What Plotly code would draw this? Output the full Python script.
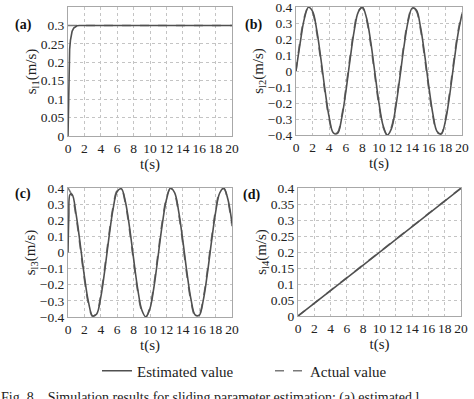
import plotly.graph_objects as go

# ---------------- data ----------------
t_a_est = [0, 0.05, 0.1, 0.15, 0.2, 0.3, 0.4, 0.5, 0.7, 0.9, 1.1, 1.4, 2, 20]
s1_est = [0, 0.10, 0.17, 0.21, 0.235, 0.26, 0.275, 0.284, 0.293, 0.297, 0.299, 0.3, 0.3, 0.3]
t_a_act = [0, 20]
s1_act = [0.3, 0.3]

t_half = [0, 0.5, 1, 1.5, 2, 2.5, 3, 3.5, 4, 4.5, 5, 5.5, 6, 6.5, 7, 7.5, 8, 8.5, 9, 9.5, 10,
          10.5, 11, 11.5, 12, 12.5, 13, 13.5, 14, 14.5, 15, 15.5, 16, 16.5, 17, 17.5, 18, 18.5,
          19, 19.5, 20]

s2_act = [0, 0.192, 0.337, 0.399, 0.364, 0.239, 0.056, -0.140, -0.303, -0.391, -0.384, -0.282,
          -0.112, 0.086, 0.263, 0.375, 0.396, 0.319, 0.165, -0.030, -0.218, -0.352, -0.400,
          -0.350, -0.215, -0.026, 0.168, 0.321, 0.396, 0.374, 0.260, 0.083, -0.115, -0.285,
          -0.384, -0.390, -0.300, -0.137, 0.060, 0.242, 0.365]
s2_est = [0, 0.174, 0.326, 0.398, 0.372, 0.255, 0.076, -0.121, -0.290, -0.387, -0.390, -0.296,
          -0.131, 0.066, 0.248, 0.368, 0.399, 0.331, 0.183, -0.010, -0.201, -0.342, -0.400,
          -0.360, -0.232, -0.046, 0.150, 0.309, 0.393, 0.381, 0.275, 0.103, -0.096, -0.271,
          -0.378, -0.394, -0.313, -0.156, 0.040, 0.226, 0.357]

s3_act = [0.400, 0.351, 0.216, 0.028, -0.166, -0.320, -0.396, -0.374, -0.262, -0.084, 0.114,
          0.284, 0.384, 0.391, 0.302, 0.139, -0.058, -0.241, -0.364, -0.399, -0.336, -0.190,
          0.002, 0.194, 0.338, 0.399, 0.363, 0.238, 0.055, -0.142, -0.304, -0.391, -0.383,
          -0.281, -0.110, 0.087, 0.264, 0.376, 0.396, 0.318, 0.163]
t_c_est = [0, 0.1, 0.25] + t_half[1:]
s3_est = [0, 0.22, 0.36, 0.361, 0.233, 0.048, -0.148, -0.308, -0.393, -0.381, -0.277, -0.104,
          0.095, 0.270, 0.378, 0.395, 0.315, 0.158, -0.038, -0.225, -0.356, -0.399, -0.347,
          -0.208, -0.018, 0.176, 0.327, 0.398, 0.371, 0.254, 0.075, -0.123, -0.291, -0.387,
          -0.389, -0.295, -0.129, 0.067, 0.249, 0.369, 0.399, 0.330, 0.181]

t_d = [0, 2, 4, 6, 8, 10, 12, 14, 16, 18, 20]
s4_act = [0, 0.04, 0.08, 0.12, 0.16, 0.20, 0.24, 0.28, 0.32, 0.36, 0.40]
s4_est = [0, 0.039, 0.079, 0.119, 0.159, 0.199, 0.239, 0.279, 0.319, 0.359, 0.399]

x_ticks = [0, 2, 4, 6, 8, 10, 12, 14, 16, 18, 20]
ya_ticks = [0, 0.05, 0.1, 0.15, 0.2, 0.25, 0.3]
ybc_ticks = [-0.4, -0.3, -0.2, -0.1, 0, 0.1, 0.2, 0.3, 0.4]
yd_ticks = [0, 0.05, 0.1, 0.15, 0.2, 0.25, 0.3, 0.35, 0.4]

panel_labels = ["(a)", "(b)", "(c)", "(d)"]
y_titles = ["s<sub>l1</sub>(m/s)", "s<sub>l2</sub>(m/s)", "s<sub>l3</sub>(m/s)", "s<sub>l4</sub>(m/s)"]
legend_names = ["Estimated value", "Actual value"]
caption = "Fig. 8    Simulation results for sliding parameter estimation: (a) estimated l"

# ---------------- figure ----------------
W, H = 474, 399
EST_C = "#505050"
ACT_C = "#7a7a7a"
FONT = "Liberation Serif"

def fx(px):
    return px / W

def fy(py):
    return 1 - py / H

fig = go.Figure()

panels = [
    dict(xa="x", ya="y", te=t_a_est, ye=s1_est, ta=t_a_act, yact=s1_act, shape="linear"),
    dict(xa="x2", ya="y2", te=t_half, ye=s2_est, ta=t_half, yact=s2_act, shape="spline"),
    dict(xa="x3", ya="y3", te=t_c_est, ye=s3_est, ta=t_half, yact=s3_act, shape="spline"),
    dict(xa="x4", ya="y4", te=t_d, ye=s4_est, ta=t_d, yact=s4_act, shape="linear"),
]

for i, p in enumerate(panels):
    fig.add_trace(go.Scatter(x=p["ta"], y=p["yact"], xaxis=p["xa"], yaxis=p["ya"], mode="lines",
                             line=dict(color=ACT_C, width=1.6, dash="dash", shape=p["shape"]),
                             name=legend_names[1], showlegend=False, legendrank=2))
    fig.add_trace(go.Scatter(x=p["te"], y=p["ye"], xaxis=p["xa"], yaxis=p["ya"], mode="lines",
                             line=dict(color=EST_C, width=1.6, shape=p["shape"]),
                             name=legend_names[0], showlegend=(i == 0), legendrank=1))
    if i == 0:
        fig.add_trace(go.Scatter(x=[None], y=[None], xaxis="x", yaxis="y", mode="lines",
                                 line=dict(color=ACT_C, width=1.6, dash="dash"),
                                 name=legend_names[1], showlegend=True, legendrank=2))

domains = [
    ((68, 232), (7, 136)),
    ((296, 462), (7, 135)),
    ((68, 232), (188, 317)),
    ((298, 461), (188, 316)),
]
yranges = [[0, 0.35], [-0.4, 0.4], [-0.4, 0.4], [0, 0.4]]
yticks = [ya_ticks, ybc_ticks, ybc_ticks, yd_ticks]

axis_common = dict(
    showline=True, linecolor="#a8a8a8", linewidth=1, mirror=True,
    showgrid=True, gridcolor="#c4c4c4", griddash="dot", gridwidth=1,
    zeroline=False, ticks="", automargin=False, ticklabeloverflow="allow",
    tickfont=dict(family=FONT, size=13.5, color="#222"),
)

for i in range(4):
    (x0, x1), (y0, y1) = domains[i]
    sx = "" if i == 0 else str(i + 1)
    fig.layout["xaxis" + sx] = dict(
        domain=[fx(x0), fx(x1)], range=[0, 20], tickvals=x_ticks, tickangle=0,
        anchor="y" + sx, title=dict(text="t(s)", font=dict(family=FONT, size=15, color="#222"), standoff=0),
        **axis_common)
    fig.layout["yaxis" + sx] = dict(
        domain=[fy(y1), fy(y0)], range=yranges[i], tickvals=yticks[i],
        anchor="x" + sx, title=dict(text=y_titles[i], font=dict(family=FONT, size=15, color="#222"), standoff=0),
        **axis_common)

label_pos = [(23, 25), (253, 25), (23, 194), (252, 195)]
annotations = []
for lab, (lx, ly) in zip(panel_labels, label_pos):
    annotations.append(dict(text="<b>" + lab + "</b>", x=fx(lx), y=fy(ly), xref="paper", yref="paper",
                            showarrow=False, xanchor="center", yanchor="middle",
                            font=dict(family=FONT, size=14, color="#111")))
annotations.append(dict(text=caption, x=fx(-1), y=fy(398), xref="paper", yref="paper",
                        showarrow=False, xanchor="left", yanchor="middle",
                        font=dict(family=FONT, size=14, color="#222")))

fig.update_layout(
    width=W, height=H, margin=dict(l=0, r=0, t=0, b=0),
    paper_bgcolor="white", plot_bgcolor="white",
    showlegend=True,
    legend=dict(orientation="h", x=fx(97), y=fy(371), xanchor="left", yanchor="middle",
                font=dict(family=FONT, size=15, color="#222"), bgcolor="rgba(0,0,0,0)",
                entrywidth=128, entrywidthmode="pixels", tracegroupgap=0),
    annotations=annotations,
)

fig.write_html("out.html", config={"displayModeBar": False},
               post_script="document.body.style.margin='0';document.body.style.overflow='hidden';")
